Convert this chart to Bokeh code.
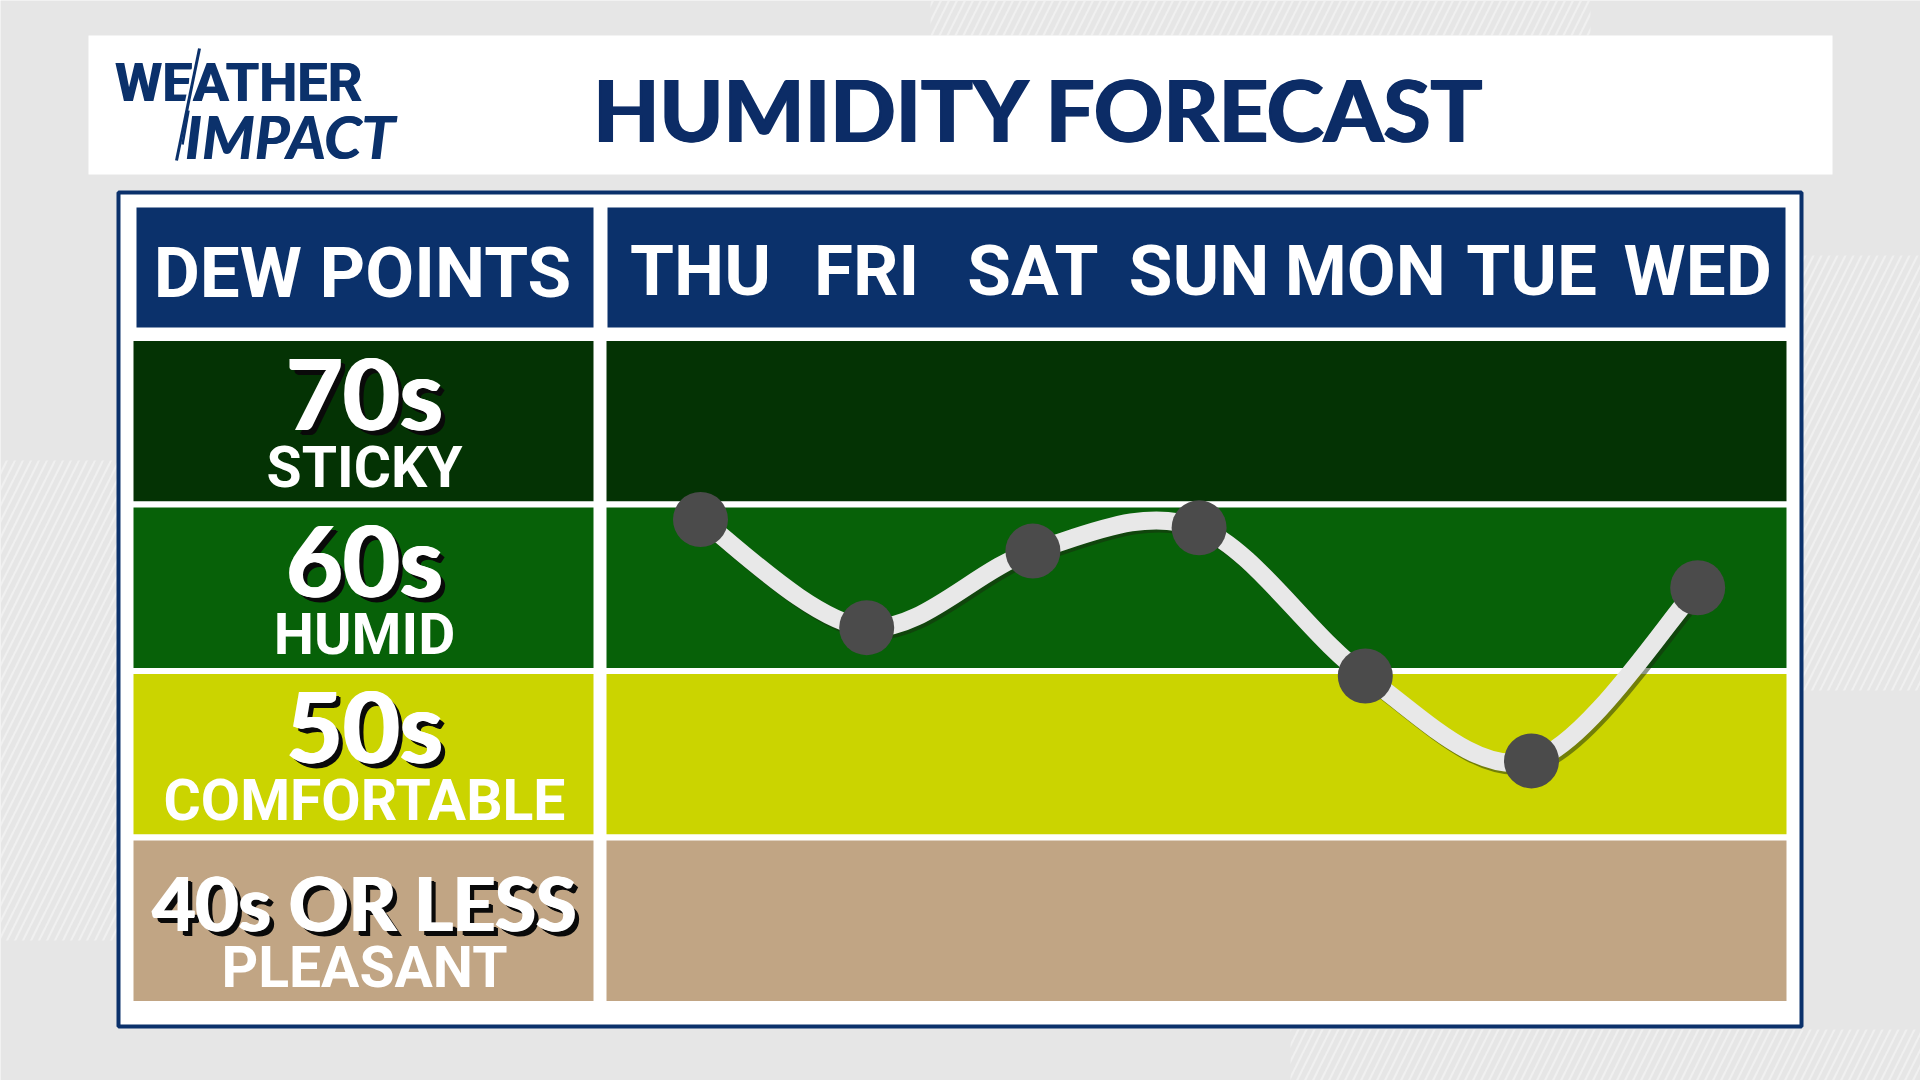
from bokeh.plotting import figure
from bokeh.models import Range1d
from bokeh.core.properties import value
from bokeh.embed import file_html
from bokeh.resources import INLINE

# ---------------- data ----------------
days = ["THU", "FRI", "SAT", "SUN", "MON", "TUE", "WED"]
dew_points = [69.1, 62.6, 67.2, 68.6, 59.7, 54.6, 65.0]
band_floors = [70, 60, 50, 40]
band_ranges = ["70s", "60s", "50s", "40s OR LESS"]
band_names = ["STICKY", "HUMID", "COMFORTABLE", "PLEASANT"]
header_left = "DEW POINTS"
title_text = "HUMIDITY FORECAST"
logo_top = "WEATHER"
logo_bottom = "IMPACT"

# ---------------- styles ----------------
BG = "#e6e6e6"
NAVY = "#0b316b"
TITLE_NAVY = "#0c2c66"
band_colors = ["#043304", "#076108", "#cbd400", "#c1a584"]
POINT = "#4b4b4b"
CURVE = "#e8e8e8"
HEAD = value("Roboto")
HEAVY = value("Lato")
SUB = value("Roboto")

W, H = 1920, 1080

# placement of the data scales on screen (px)
DAY0_PX, DAY_STEP = 700.0, 166.2
DEW70_PX, PX_PER_DEG = 504.0, 16.65


def day_range(shift=0.0):
    return Range1d((0 - DAY0_PX - shift) / DAY_STEP, (W - DAY0_PX - shift) / DAY_STEP)


def dew_range(shift=0.0):
    return Range1d(70 - (H - DEW70_PX - shift) / PX_PER_DEG,
                   70 + (DEW70_PX + shift) / PX_PER_DEG)


def dew_px(v):
    return round(DEW70_PX - (v - 70) * PX_PER_DEG, 1)


p = figure(width=W, height=H, x_range=Range1d(0, W), y_range=Range1d(H, 0),
           output_backend="svg", toolbar_location=None, min_border=0,
           x_axis_location=None, y_axis_location=None,
           background_fill_color=BG, border_fill_color=BG, outline_line_color=None)
p.xgrid.grid_line_color = None
p.ygrid.grid_line_color = None
p.extra_x_ranges = {"day": day_range(), "day_s": day_range(3)}
p.extra_y_ranges = {"dew": dew_range(), "dew_s": dew_range(3)}

# background stripes
p.quad(left=[0, 930, 1802, 1290], right=[118, 1590, 1920, 1920],
       top=[460, 0, 255, 1029], bottom=[940, 35, 690, 1080],
       fill_alpha=0, line_alpha=0, hatch_pattern="/", hatch_color="#f2f2f2",
       hatch_weight=2, hatch_scale=16, hatch_alpha=0.8)

# title bar
p.quad(left=[88], right=[1832], top=[35], bottom=[174], fill_color="white", line_color=None)

# logo
for dx in (0, 1):
    p.text(x=[114 + dx], y=[82], text=[logo_top], text_font=HEAD, text_font_style="bold",
           text_font_size="54px", text_color=NAVY, text_align="left", text_baseline="middle")
    p.text(x=[184 + dx], y=[135], text=[logo_bottom], text_font=HEAVY, text_font_style="bold italic",
           text_font_size="60px", text_color=NAVY, text_align="left", text_baseline="middle")
p.segment(x0=[199], y0=[48], x1=[176], y1=[160], line_color="white", line_width=7)
p.segment(x0=[199], y0=[48], x1=[176], y1=[160], line_color=NAVY, line_width=3)
p.segment(x0=[188], y0=[110], x1=[182], y1=[144], line_color=NAVY, line_width=2.5)

# title (drawn with small offsets for a heavier weight)
for dx in (-1.2, 0, 1.2):
    p.text(x=[1039 + dx], y=[108], text=[title_text], text_font=HEAVY, text_font_style="bold",
           text_font_size="86px", text_color=TITLE_NAVY, text_align="center", text_baseline="middle")

# main panel
p.quad(left=[118], right=[1801], top=[192], bottom=[1026], fill_color="white",
       line_color=NAVY, line_width=4)

# header cells
p.quad(left=[136, 607], right=[593, 1785], top=[207, 207], bottom=[327, 327],
       fill_color=NAVY, line_color=None)
p.text(x=[362], y=[272], text=[header_left], text_font=HEAD, text_font_style="bold",
       text_font_size="71px", text_color="white", text_align="center", text_baseline="middle")
p.text(x=list(range(len(days))), y=[270] * len(days), text=days, x_range_name="day",
       text_font=HEAD, text_font_style="bold", text_font_size="71px", text_color="white",
       text_align="center", text_baseline="middle")

# bands (dew point decades)
tops = [f + 10 for f in band_floors]
for lft, rgt in [(130, 596), (603, 1789)]:
    p.quad(left=[lft] * len(band_floors), right=[rgt] * len(band_floors),
           bottom=band_floors, top=tops, y_range_name="dew",
           fill_color=band_colors, line_color="white", line_width=6)

# smooth curve through the daily dew points (Catmull-Rom as cubic Bezier)
n = len(dew_points)
idx = list(range(n))


def pt(i):
    i = max(0, min(n - 1, i))
    return idx[i], dew_points[i]


x0, y0, x1, y1, cx0, cy0, cx1, cy1 = ([] for _ in range(8))
for i in range(n - 1):
    (xa, ya), (xb, yb) = pt(i), pt(i + 1)
    (xp, yp), (xn, yn) = pt(i - 1), pt(i + 2)
    x0.append(xa); y0.append(ya); x1.append(xb); y1.append(yb)
    cx0.append(xa + (xb - xp) / 6); cy0.append(ya + (yb - yp) / 6)
    cx1.append(xb - (xn - xa) / 6); cy1.append(yb - (yn - ya) / 6)

p.bezier(x0=x0, y0=y0, x1=x1, y1=y1, cx0=cx0, cy0=cy0, cx1=cx1, cy1=cy1,
         x_range_name="day_s", y_range_name="dew_s",
         line_color="#1a2a10", line_alpha=0.5, line_width=18)
p.bezier(x0=x0, y0=y0, x1=x1, y1=y1, cx0=cx0, cy0=cy0, cx1=cx1, cy1=cy1,
         x_range_name="day", y_range_name="dew",
         line_color=CURVE, line_width=18)

p.scatter(x=idx, y=dew_points, x_range_name="day", y_range_name="dew",
          size=55, fill_color=POINT, line_color=None)

# band labels (placed inside each decade band, screen px)
# note: font sizes such as "100px" clash with the SVG font parser together with "bold"
LX = 364
for i, floor in enumerate(band_floors):
    last = i == len(band_floors) - 1
    by = dew_px(floor + (6.1 if last else 6.75))
    sy = dew_px(floor + 2.2)
    size = "74px" if last else "98px"
    for sx, syo in ((4, 4), (5.5, 5)):
        p.text(x=[LX + sx], y=[by + syo], text=[band_ranges[i]],
               text_font=HEAVY, text_font_style="bold", text_font_size=size,
               text_color="#0a0a0a", text_align="center", text_baseline="middle")
    for dx in (-1.2, 0, 1.2):
        p.text(x=[LX + dx], y=[by], text=[band_ranges[i]],
               text_font=HEAVY, text_font_style="bold", text_font_size=size,
               text_color="white", text_align="center", text_baseline="middle")
    p.text(x=[LX], y=[sy], text=[band_names[i]],
           text_font=SUB, text_font_style="bold", text_font_size="57px", text_color="white",
           text_align="center", text_baseline="middle")

open("out.html", "w").write(file_html(p, INLINE))
